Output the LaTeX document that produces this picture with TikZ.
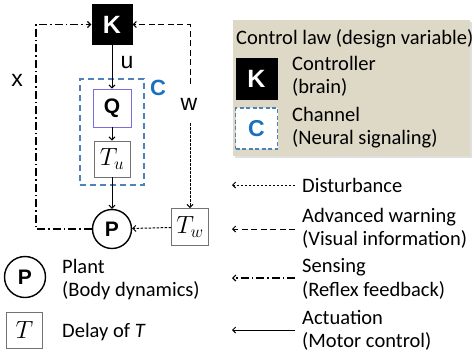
\documentclass[tikz,border=0pt]{standalone}
\usepackage{fontspec}
\setmainfont{Carlito}
\newfontfamily\arialfont{Liberation Sans}
\usetikzlibrary{arrows.meta,positioning,shadows}

\definecolor{legendtan}{HTML}{DDD9C6}
\definecolor{chanblue}{HTML}{4F81BD}
\definecolor{cblue}{HTML}{1A6FC0}
\definecolor{qpurple}{HTML}{7A6FD8}

\begin{document}
\begin{tikzpicture}[
    x=1pt, y=-1pt,
    >={Straight Barb[length=3pt,width=6pt]},
    kbox/.style={rectangle, fill=black, text=white, minimum size=41pt, inner sep=0pt,
                 font=\arialfont\bfseries\fontsize{25}{25}\selectfont},
    qbox/.style={rectangle, draw=qpurple, line width=0.8pt, minimum size=38pt, inner sep=0pt,
                 font=\arialfont\bfseries\fontsize{21}{21}\selectfont},
    delay/.style={rectangle, draw=black!55, line width=0.9pt, minimum size=36pt, inner sep=0pt,
                  font=\fontsize{24}{24}\selectfont},
    plant/.style={circle, draw=black, line width=1.4pt, minimum size=39pt, inner sep=0pt,
                  font=\arialfont\bfseries\fontsize{21}{21}\selectfont},
    chanbox/.style={rectangle, draw=chanblue, line width=1.3pt, dash pattern=on 6pt off 4pt},
    clabel/.style={text=cblue, font=\arialfont\bfseries\fontsize{22}{22}\selectfont},
    siglbl/.style={font=\arialfont\fontsize{23}{23}\selectfont, inner sep=0pt},
    txt/.style={anchor=west, align=left, inner sep=1pt,
                font=\fontsize{20.5}{23.5}\selectfont},
    legendbox/.style={rectangle, fill=legendtan, minimum width=237pt, minimum height=136pt,
                      drop shadow={shadow xshift=2pt, shadow yshift=-2pt, opacity=0.25}},
    act/.style={->, line width=1pt},
    dist/.style={->, line width=1pt, dash pattern=on 2.5pt off 1.5pt},
    warn/.style={->, line width=1pt, dash pattern=on 6pt off 3.5pt},
    sense/.style={->, line width=1.2pt, dash pattern=on 8pt off 3pt on 1.5pt off 3pt}
  ]
    \useasboundingbox (0,0) rectangle (474,354);

    %--- Legend panel (top right) ---
    \node[legendbox] (legend) at (351.5,88) {};
    \node[txt] (law) at (235,39) {Control law (design variable)};
    \node[kbox, minimum size=42pt] (Kleg) at (256.5,79) {K};
    \node[txt] (tctrl) at (291,76.5) {Controller\\(brain)};
    \node[rectangle, fill=white, draw=chanblue, line width=1.2pt, dash pattern=on 4pt off 2.5pt,
          minimum width=42pt, minimum height=41pt, inner sep=0pt,
          text=cblue, font=\arialfont\bfseries\fontsize{23}{23}\selectfont] (Cleg) at (256.5,128.5) {C};
    \node[txt] (tchan) at (291,127.5) {Channel\\(Neural signaling)};

    %--- Loop blocks ---
    \node[kbox]    (K)    at (112,24.5) {K};
    \node[qbox]    (Q)    at (112,108)  {Q};
    \node[delay]   (Tu)   at (112,159)  {$T_u$};
    \node[plant]   (P)    at (112,229)  {P};
    \node[delay, minimum size=37pt] (Tw) at (190,227) {$T_w$};
    \node[chanbox, minimum width=64pt, minimum height=106pt] (chan) at (112,132) {};
    \node[clabel]  (Cl)   at (158,88)   {C};

    %--- Signal labels ---
    \node[siglbl] (xl) at (17,80)  {x};
    \node[siglbl] (ul) at (127,63) {u};
    \node[siglbl] (wl) at (189,104) {w};
    \coordinate (xc)  at (36,24.5);
    \coordinate (wup) at (190,84);
    \coordinate (wdn) at (190,123);

    %--- Loop arrows ---
    \draw[act]   (K)  -- (Q);
    \draw[act]   (Q)  -- (Tu);
    \draw[act]   (Tu) -- (P);
    \draw[sense] (P.west) -| (xc) -- (K.west);
    \draw[warn]  (wup) |- (K.east);
    \draw[dist]  (wdn) -- (Tw);
    \draw[dist]  (Tw)  -- (P);

    %--- Block legend (bottom left) ---
    \node[plant, minimum size=41pt] (Pleg) at (25,277) {P};
    \node[txt] (tplant) at (61,279.5) {Plant\\(Body dynamics)};
    \node[delay] (Tleg) at (24.5,330) {$T$};
    \node[txt] (tdelay) at (61,332) {Delay of \textit{T}};

    %--- Line legend (bottom right) ---
    \node[txt] (tdist)  at (301,185)   {Disturbance};
    \node[txt] (twarn)  at (301,228.5) {Advanced warning\\(Visual information)};
    \node[txt] (tsense) at (301,279)   {Sensing\\(Reflex feedback)};
    \node[txt] (tact)   at (301,330.5) {Actuation\\(Motor control)};
    \coordinate (dist0)  at (232,185);
    \coordinate (warn0)  at (232,229);
    \coordinate (sense0) at (232,278);
    \coordinate (act0)   at (232,330);
    \draw[dist]  (295,185) -- (dist0);
    \draw[warn]  (295,229) -- (warn0);
    \draw[sense] (295,278) -- (sense0);
    \draw[act]   (295,330) -- (act0);
  \end{tikzpicture}
\end{document}
